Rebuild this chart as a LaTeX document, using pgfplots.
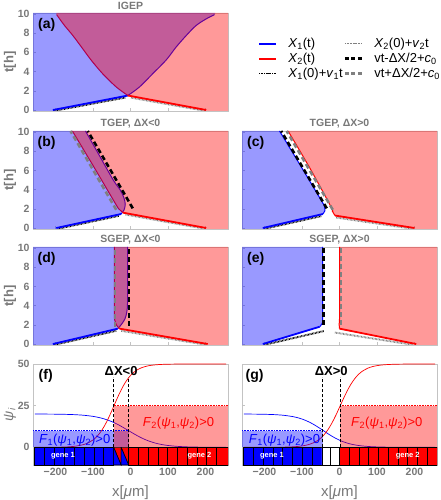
\documentclass[border=0pt]{standalone}
\usepackage{fontspec}
\setmainfont{Liberation Sans}
\usepackage{pgfplots}
\pgfplotsset{compat=1.18}
\definecolor{tgray}{RGB}{120,120,120}
\definecolor{fgray}{RGB}{195,195,195}
\definecolor{dgray}{RGB}{128,128,128}
\definecolor{fblue}{RGB}{0,0,255}
\definecolor{fred}{RGB}{255,0,0}
\pgfplotsset{
  base/.style={
    scale only axis, width=195pt,
    xmin=-260, xmax=260,
    axis line style={draw=fgray, line width=0.8pt},
    tick style={draw=fgray, line width=0.6pt},
    tick align=inside, major tick length=3pt,
    tick pos=left,
    xtick={-200,-100,0,100,200},
    ticklabel style={font=\bfseries\fontsize{10.5}{12}\selectfont, text=tgray},
    /pgf/number format/assume math mode=true,
    title style={font=\bfseries\fontsize{10.5}{12}\selectfont, text=tgray, at={(0.5,1)}, anchor=south, inner sep=0pt, yshift=-3pt},
    clip=true,
  },
  tpanel/.style={base, height=98pt, ymin=-0.1, ymax=10.1, ytick={0,2,4,6,8,10}, xticklabels={}},
  tleft/.style={ylabel={t[h]}, ylabel style={font=\bfseries\fontsize{13}{15}\selectfont, text=tgray, at={(axis description cs:-0.118,0.5)}, anchor=center}},
  tright/.style={yticklabels={}},
}
\tikzset{
  xline/.style={line width=1.8pt},
  xcurve/.style={line width=1pt, smooth, tension=0.5},
  bdot/.style={black, line width=1.9pt, dash pattern=on 0.7pt off 0.7pt},
  gdot/.style={dgray, line width=1.9pt, dash pattern=on 0.7pt off 0.7pt},
  bdash/.style={black, line width=2.6pt, dash pattern=on 5pt off 3pt},
  gdash/.style={dgray, line width=2.6pt, dash pattern=on 5pt off 3pt},
  bfill/.style={fill=fblue, fill opacity=0.4, draw=none},
  rfill/.style={fill=fred, fill opacity=0.4, draw=none},
  plabel/.style={font=\bfseries\fontsize{14}{16}\selectfont},
}
\begin{document}
\begin{tikzpicture}
\useasboundingbox (0,0) rectangle (441pt,500pt);

% ---------------- (a) IGEP
\begin{axis}[tpanel, tleft, at={(33pt,389pt)}, anchor=south west, title={IGEP}]
\addplot[bdot] coordinates {(-203,-0.08) (-14,1.3)};
\addplot[gdot] coordinates {(198,-0.08) (0,1.3)};
\addplot[fblue, xline] coordinates {(-207,0) (-7,1.51)};
\addplot[fblue, xcurve] coordinates {(-7,1.51) (24,2.4) (59,3.77) (95,5.2) (122,6.57) (149,7.77) (175,8.8) (202,9.49) (224,9.93)};
\addplot[fred, xline] coordinates {(202,0) (-7,1.51)};
\addplot[fred, xcurve] coordinates {(-7,1.51) (-38,2.4) (-74,3.77) (-105,5.2) (-131,6.57) (-154,7.77) (-176,8.8) (-189,9.49) (-197,9.93)};
\addplot[bfill] coordinates {(-260,-0.1) (-207,-0.1) (-207,0) (-7,1.51) (24,2.4) (59,3.77) (95,5.2) (122,6.57) (149,7.77) (175,8.8) (202,9.49) (224,9.93) (226,10.1) (-260,10.1)};
\addplot[rfill] coordinates {(260,-0.1) (202,-0.1) (202,0) (-7,1.51) (-38,2.4) (-74,3.77) (-105,5.2) (-131,6.57) (-154,7.77) (-176,8.8) (-189,9.49) (-197,9.93) (-198,10.1) (260,10.1)};
\node[plabel] at (rel axis cs:0.07,0.88) {(a)};
\end{axis}

% ---------------- (b) TGEP dX<0
\begin{axis}[tpanel, tleft, at={(33pt,271pt)}, anchor=south west, title={TGEP, ΔX<0}]
\addplot[bdot] coordinates {(-194,-0.08) (-30,1.28)};
\addplot[gdot] coordinates {(198,-0.08) (-15,1.42)};
\addplot[fblue, xline] coordinates {(-198,0) (-25,1.46)};
\addplot[fblue, xcurve] coordinates {(-25,1.46) (-17,1.9) (-14,2.5) (-18,3.2) (-28,4.0) (-46,5.0) (-83,7.55) (-120,10.1)};
\addplot[fred, xline] coordinates {(202,0) (-20,1.6)};
\addplot[fred, xcurve] coordinates {(-20,1.6) (-30,1.95) (-38,2.4) (-96,6.25) (-155,10.1)};
\addplot[bfill] coordinates {(-260,-0.1) (-198,-0.1) (-198,0) (-25,1.46) (-17,1.9) (-14,2.5) (-18,3.2) (-28,4.0) (-46,5.0) (-83,7.55) (-120,10.1) (-260,10.1)};
\addplot[rfill] coordinates {(260,-0.1) (202,-0.1) (202,0) (-20,1.6) (-30,1.95) (-38,2.4) (-96,6.25) (-155,10.1) (260,10.1)};
\addplot[gdash] coordinates {(-38,1.9) (-160,10.1)};
\addplot[bdash] coordinates {(6,2.05) (-114,10.1)};
\node[plabel] at (rel axis cs:0.07,0.88) {(b)};
\end{axis}

% ---------------- (c) TGEP dX>0
\begin{axis}[tpanel, tright, at={(242pt,271pt)}, anchor=south west, title={TGEP, ΔX>0}]
\addplot[bdot] coordinates {(-200,-0.08) (-48,1.25)};
\addplot[gdot] coordinates {(196,-0.08) (-10,1.1)};
\addplot[fblue, xline] coordinates {(-204.5,0) (-44.5,1.46)};
\addplot[fblue, xcurve] coordinates {(-44.5,1.46) (-39,1.8) (-40,2.2) (-43,2.5) (-101,6.3) (-160,10.1)};
\addplot[fred, xline] coordinates {(200,0) (-12,1.3)};
\addplot[fred, xcurve] coordinates {(-12,1.3) (-19,1.75) (-22,2.15) (-77,6.1) (-137,10.1)};
\addplot[bfill] coordinates {(-260,-0.1) (-204.5,-0.1) (-204.5,0) (-44.5,1.46) (-39,1.8) (-40,2.2) (-43,2.5) (-101,6.3) (-160,10.1) (-260,10.1)};
\addplot[rfill] coordinates {(260,-0.1) (200,-0.1) (200,0) (-12,1.3) (-19,1.75) (-22,2.15) (-77,6.1) (-137,10.1) (260,10.1)};
\addplot[bdash] coordinates {(-34,2.05) (-155.5,10.1)};
\addplot[gdash] coordinates {(-18,1.9) (-141,10.1)};
\node[plabel] at (rel axis cs:0.07,0.88) {(c)};
\end{axis}

% ---------------- (d) SGEP dX<0
\begin{axis}[tpanel, tleft, at={(33pt,155pt)}, anchor=south west, title={SGEP, ΔX<0}]
\addplot[bdot] coordinates {(-203,-0.08) (-38,1.38)};
\addplot[gdot] coordinates {(202,-0.08) (-25,1.38)};
\addplot[fblue, xline] coordinates {(-207,0) (-34,1.6)};
\addplot[fblue, xcurve] coordinates {(-34,1.6) (-25,2.0) (-15,2.6) (-10,3.3) (-8,4.2) (-8,7) (-8,10.1)};
\addplot[fred, xline] coordinates {(206,0) (-29,1.6)};
\addplot[fred, xcurve] coordinates {(-29,1.6) (-37,1.95) (-42,2.5) (-43,3.2) (-43,7) (-43,10.1)};
\addplot[bfill] coordinates {(-260,-0.1) (-207,-0.1) (-207,0) (-34,1.6) (-25,2.0) (-15,2.6) (-10,3.3) (-8,4.2) (-8,10.1) (-260,10.1)};
\addplot[rfill] coordinates {(260,-0.1) (206,-0.1) (206,0) (-29,1.6) (-37,1.95) (-42,2.5) (-43,3.2) (-43,10.1) (260,10.1)};
\addplot[gdash] coordinates {(-41,1.8) (-41,10.1)};
\addplot[bdash] coordinates {(-4,1.9) (-4,10.1)};
\node[plabel] at (rel axis cs:0.07,0.88) {(d)};
\end{axis}

% ---------------- (e) SGEP dX>0
\begin{axis}[tpanel, tright, at={(242pt,155pt)}, anchor=south west, title={SGEP, ΔX>0}]
\addplot[bdot] coordinates {(-200,-0.08) (-42,1.35)};
\addplot[gdot] coordinates {(196,-0.08) (-13,1.2)};
\addplot[fblue, xline] coordinates {(-204.5,0) (-53,1.8)};
\addplot[fblue, xcurve] coordinates {(-53,1.8) (-47,2.1) (-45,2.6) (-45,6) (-45,10.1)};
\addplot[fred, xline] coordinates {(204.5,0) (0,1.6)};
\addplot[fred, xcurve] coordinates {(0,1.6) (-1,2.1) (0,2.6) (0,6) (0,10.1)};
\addplot[bfill] coordinates {(-260,-0.1) (-204.5,-0.1) (-204.5,0) (-53,1.8) (-47,2.1) (-45,2.6) (-45,10.1) (-260,10.1)};
\addplot[rfill] coordinates {(260,-0.1) (204.5,-0.1) (204.5,0) (0,1.6) (-1,2.1) (0,2.6) (0,10.1) (260,10.1)};
\addplot[bdash] coordinates {(-42,2.0) (-42,10.1)};
\addplot[gdash] coordinates {(4,2.0) (4,10.1)};
\node[plabel] at (rel axis cs:0.07,0.88) {(e)};
\end{axis}

% ---------------- (f)
\begin{axis}[base, height=101pt, ymin=-10.6, ymax=50, ytick={0,25,50},
  xticklabels={−200,−100,0,100,200},
  at={(33pt,35pt)}, anchor=south west,
  ylabel={\textit{ψ}\textsubscript{\textit{i}}},
  ylabel style={font=\fontsize{14}{16}\selectfont, text=tgray, at={(axis description cs:-0.118,0.5)}, anchor=center},
  xlabel={x[\textit{μ}m]},
  xlabel style={font=\fontsize{15}{17}\selectfont, text=tgray, at={(axis description cs:0.5,-0.277)}, anchor=center}]
\addplot[fblue, line width=0.7pt, smooth] coordinates {(-255,19.98) (-230,19.95) (-200,19.90) (-175,19.80) (-150,19.61) (-125,19.25) (-100,18.58) (-90,18.17) (-80,17.67) (-70,17.06) (-60,16.31) (-50,15.43) (-40,14.41) (-30,13.26) (-20,12.00) (-10,10.67) (0,9.33) (10,8.00) (20,6.74) (30,5.59) (40,4.57) (50,3.69) (60,2.94) (75,2.06) (90,1.42) (110,0.86) (130,0.51) (160,0.23) (200,0.08) (255,0.02)};
\addplot[fred, line width=0.7pt, smooth] coordinates {(-255,0.01) (-200,0.08) (-175,0.21) (-150,0.60) (-125,1.66) (-110,3.00) (-100,4.42) (-90,6.41) (-80,9.12) (-70,12.64) (-60,16.96) (-50,21.89) (-40,27.08) (-30,32.09) (-20,36.55) (-10,40.24) (0,43.10) (10,45.23) (20,46.75) (30,47.81) (45,48.80) (60,49.35) (80,49.72) (110,49.92) (150,49.98) (255,50.0)};
\addplot[bfill] coordinates {(-260,0) (-5,0) (-5,10) (-260,10)};
\addplot[rfill] coordinates {(-45,0) (260,0) (260,25) (-45,25)};
\addplot[fblue, line width=0.6pt, densely dotted] coordinates {(-260,10) (-5,10)};
\addplot[fred, line width=0.6pt, densely dotted] coordinates {(-45,25) (260,25)};
% genes
\addplot[fill=fblue, draw=black, line width=0.6pt] coordinates {(-256,0) (-45,0) (-45,-10.6) (-256,-10.6) (-256,0)};
\addplot[black, line width=0.6pt, unbounded coords=jump] coordinates {(-229.6,0) (-229.6,-10.6) (-229.6,nan) (-203.3,0) (-203.3,-10.6) (-203.3,nan) (-176.9,0) (-176.9,-10.6) (-176.9,nan) (-150.5,0) (-150.5,-10.6) (-150.5,nan) (-124.1,0) (-124.1,-10.6) (-124.1,nan) (-97.8,0) (-97.8,-10.6) (-97.8,nan) (-71.4,0) (-71.4,-10.6)};
\addplot[fill=fred, draw=black, line width=0.6pt] coordinates {(-45,0) (-25,0) (-25,-10.6) (-45,0)};
\addplot[fill=fblue, draw=black, line width=0.6pt] coordinates {(-45,0) (-25,-10.6) (-45,-10.6) (-45,0)};
\addplot[fill=fred, draw=black, line width=0.6pt] coordinates {(-25,0) (-5,0) (-5,-10.6) (-25,0)};
\addplot[fill=fblue, draw=black, line width=0.6pt] coordinates {(-25,0) (-5,-10.6) (-25,-10.6) (-25,0)};
\addplot[fill=fred, draw=black, line width=0.6pt] coordinates {(-5,0) (260,0) (260,-10.6) (-5,-10.6) (-5,0)};
\addplot[black, line width=0.6pt, unbounded coords=jump] coordinates {(21,0) (21,-10.6) (21,nan) (47,0) (47,-10.6) (47,nan) (73,0) (73,-10.6) (73,nan) (99,0) (99,-10.6) (99,nan) (125,0) (125,-10.6) (125,nan) (151,0) (151,-10.6) (151,nan) (177,0) (177,-10.6) (177,nan) (203,0) (203,-10.6) (203,nan) (229,0) (229,-10.6)};
\addplot[black, line width=0.6pt, dash pattern=on 3pt off 2pt] coordinates {(-45,0) (-45,42)};
\addplot[black, line width=0.6pt, dash pattern=on 3pt off 2pt] coordinates {(-5,0) (-5,42)};
\node[font=\bfseries\fontsize{13}{15}\selectfont] at (axis cs:-25,45.5) {ΔX<0};
\node[font=\fontsize{13}{15}\selectfont, text=fblue] at (axis cs:-149,4.6) {\textit{F}\textsubscript{1}(\textit{ψ}\textsubscript{1},\textit{ψ}\textsubscript{2})>0};
\node[font=\fontsize{13}{15}\selectfont, text=fred] at (axis cs:128,14.6) {\textit{F}\textsubscript{2}(\textit{ψ}\textsubscript{1},\textit{ψ}\textsubscript{2})>0};
\node[font=\bfseries\fontsize{7.5}{9}\selectfont, text=white] at (axis cs:-180,-5.3) {gene 1};
\node[font=\bfseries\fontsize{7.5}{9}\selectfont, text=white] at (axis cs:184,-5.3) {gene 2};
\node[plabel] at (rel axis cs:0.065,0.88) {(f)};
\end{axis}

% ---------------- (g)
\begin{axis}[base, height=101pt, ymin=-10.6, ymax=50, ytick={0,25,50}, yticklabels={},
  xticklabels={−200,−100,0,100,200},
  at={(242pt,35pt)}, anchor=south west,
  xlabel={x[\textit{μ}m]},
  xlabel style={font=\fontsize{15}{17}\selectfont, text=tgray, at={(axis description cs:0.5,-0.277)}, anchor=center}]
\addplot[fblue, line width=0.7pt, smooth] coordinates {(-255,19.97) (-225,19.92) (-200,19.83) (-175,19.64) (-150,19.25) (-125,18.46) (-110,17.68) (-100,16.98) (-90,16.12) (-80,15.08) (-70,13.88) (-60,12.52) (-50,11.06) (-40,9.55) (-30,8.05) (-20,6.65) (-10,5.38) (0,4.27) (10,3.34) (20,2.58) (30,1.97) (45,1.30) (60,0.84) (80,0.47) (100,0.26) (130,0.11) (170,0.03) (255,0.00)};
\addplot[fred, line width=0.7pt, smooth] coordinates {(-255,0.00) (-200,0.02) (-175,0.04) (-150,0.11) (-125,0.31) (-110,0.56) (-100,0.83) (-90,1.23) (-80,1.81) (-70,2.66) (-60,3.86) (-50,5.55) (-40,7.85) (-30,10.88) (-20,14.66) (-10,19.11) (0,24.0) (10,28.97) (20,33.64) (30,37.70) (40,41.03) (50,43.61) (60,45.52) (75,47.44) (90,48.56) (110,49.34) (140,49.80) (180,49.96) (255,50.0)};
\addplot[bfill] coordinates {(-260,0) (-45,0) (-45,10) (-260,10)};
\addplot[rfill] coordinates {(2,0) (260,0) (260,25) (2,25)};
\addplot[fblue, line width=0.6pt, densely dotted] coordinates {(-260,10) (-45,10)};
\addplot[fred, line width=0.6pt, densely dotted] coordinates {(2,25) (260,25)};
% genes
\addplot[fill=fblue, draw=black, line width=0.6pt] coordinates {(-256,0) (-47,0) (-47,-10.6) (-256,-10.6) (-256,0)};
\addplot[black, line width=0.6pt, unbounded coords=jump] coordinates {(-229.9,0) (-229.9,-10.6) (-229.9,nan) (-203.8,0) (-203.8,-10.6) (-203.8,nan) (-177.6,0) (-177.6,-10.6) (-177.6,nan) (-151.5,0) (-151.5,-10.6) (-151.5,nan) (-125.4,0) (-125.4,-10.6) (-125.4,nan) (-99.2,0) (-99.2,-10.6) (-99.2,nan) (-73.1,0) (-73.1,-10.6)};
\addplot[fill=white, draw=black, line width=0.6pt] coordinates {(-47,0) (0,0) (0,-10.6) (-47,-10.6) (-47,0)};
\addplot[black, line width=0.6pt] coordinates {(-23.5,0) (-23.5,-10.6)};
\addplot[fill=fred, draw=black, line width=0.6pt] coordinates {(0,0) (260,0) (260,-10.6) (0,-10.6) (0,0)};
\addplot[black, line width=0.6pt, unbounded coords=jump] coordinates {(26,0) (26,-10.6) (26,nan) (52,0) (52,-10.6) (52,nan) (78,0) (78,-10.6) (78,nan) (104,0) (104,-10.6) (104,nan) (130,0) (130,-10.6) (130,nan) (156,0) (156,-10.6) (156,nan) (182,0) (182,-10.6) (182,nan) (208,0) (208,-10.6) (208,nan) (234,0) (234,-10.6)};
\addplot[black, line width=0.6pt, dash pattern=on 3pt off 2pt] coordinates {(-45,0) (-45,42)};
\addplot[black, line width=0.6pt, dash pattern=on 3pt off 2pt] coordinates {(2,0) (2,42)};
\node[font=\bfseries\fontsize{13}{15}\selectfont] at (axis cs:-22,45.5) {ΔX>0};
\node[font=\fontsize{13}{15}\selectfont, text=fblue] at (axis cs:-147,4.6) {\textit{F}\textsubscript{1}(\textit{ψ}\textsubscript{1},\textit{ψ}\textsubscript{2})>0};
\node[font=\fontsize{13}{15}\selectfont, text=fred] at (axis cs:126,14.6) {\textit{F}\textsubscript{2}(\textit{ψ}\textsubscript{1},\textit{ψ}\textsubscript{2})>0};
\node[font=\bfseries\fontsize{7.5}{9}\selectfont, text=white] at (axis cs:-180,-5.3) {gene 1};
\node[font=\bfseries\fontsize{7.5}{9}\selectfont, text=white] at (axis cs:182,-5.3) {gene 2};
\node[plabel] at (rel axis cs:0.065,0.88) {(g)};
\end{axis}

% ---------------- legend
\begin{axis}[at={(258pt,463pt)}, anchor=south west, scale only axis, width=1pt, height=1pt,
  hide axis, xmin=0, xmax=1, ymin=0, ymax=1,
  legend columns=2,
  legend cell align=left,
  legend style={at={(0,0)}, anchor=north west, draw=none, fill=none, inner sep=0pt,
    font=\fontsize{13}{15}\selectfont, row sep=2pt,
    nodes={inner sep=1pt},
    /tikz/every odd column/.append style={column sep=10pt}}]
\addlegendimage{line legend, color=fblue, line width=2pt}
\addlegendentry{\textit{X}\textsubscript{1}(t)}
\addlegendimage{line legend, color=dgray, line width=0.8pt, dash pattern=on 0.8pt off 0.8pt}
\addlegendentry{\textit{X}\textsubscript{2}(0)+\textit{v}\textsubscript{2}t}
\addlegendimage{line legend, color=fred, line width=2pt}
\addlegendentry{\textit{X}\textsubscript{2}(t)}
\addlegendimage{line legend, color=black, line width=2.6pt, dash pattern=on 4pt off 2.5pt}
\addlegendentry{vt-ΔX/2+\textit{c}\textsubscript{0}}
\addlegendimage{line legend, color=black, line width=0.8pt, dash pattern=on 0.8pt off 0.8pt}
\addlegendentry{\textit{X}\textsubscript{1}(0)+\textit{v}\textsubscript{1}t}
\addlegendimage{line legend, color=dgray, line width=2.6pt, dash pattern=on 4pt off 2.5pt}
\addlegendentry{vt+ΔX/2+\textit{c}\textsubscript{0}}
\end{axis}
\end{tikzpicture}
\end{document}
